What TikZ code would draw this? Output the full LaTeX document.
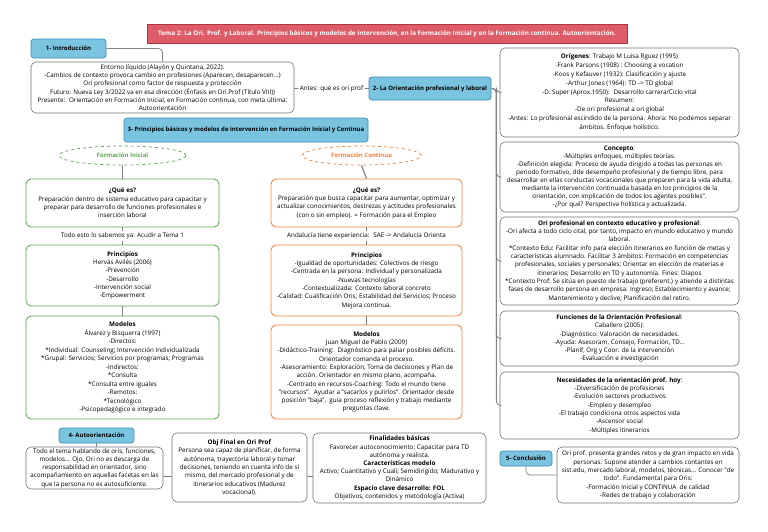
\documentclass[tikz,border=0pt]{standalone}
\usepackage{fontspec}
\setmainfont{Open Sans}
\usetikzlibrary{shapes.geometric}
\definecolor{boxgray}{RGB}{115,115,115}
\definecolor{lgray}{RGB}{130,130,130}
\definecolor{lblue}{RGB}{122,196,224}
\definecolor{hblue}{RGB}{62,140,180}
\definecolor{tred}{RGB}{222,92,104}
\definecolor{tredb}{RGB}{175,55,65}
\definecolor{ogreen}{RGB}{88,168,78}
\definecolor{oorange}{RGB}{245,128,58}
\newcommand\fs{\fontsize{6.3}{8.3}\selectfont}
\newcommand\fsw{\fontsize{6.3}{8.8}\selectfont}
\newcommand\fsh{\fontsize{6}{8}\selectfont}
\tikzset{
  box/.style={draw=boxgray, line width=0.6pt, rounded corners=5pt, fill=white, align=center, inner sep=0pt, font=\fs},
  gbox/.style={box, draw=ogreen, line width=0.8pt},
  obox/.style={box, draw=oorange, line width=0.8pt},
  head/.style={draw=hblue, fill=lblue, line width=0.7pt, rounded corners=3pt, align=center, inner sep=0pt, font=\fsh\bfseries},
  lab/.style={fill=white, inner sep=1.5pt, font=\fs},
  conn/.style={draw=lgray, line width=0.8pt, rounded corners=4pt},
  vconn/.style={draw=lgray, line width=1.2pt},
  ell/.style={ellipse, dashed, line width=0.7pt, inner sep=0pt, font=\fsh\bfseries, fill=white}
}
\begin{document}
\begin{tikzpicture}[x=1pt,y=-1pt]
\fill[white] (0,0) rectangle (768,531);
\useasboundingbox (0,0) rectangle (768,531);

% title
\node[draw=tredb, fill=tred, line width=0.6pt, minimum width=480, minimum height=19, inner sep=0pt, font=\fs\bfseries, text=white] (title) at (387,33.5) {Tema 2: La Ori. Prof. y Laboral. Principios básicos y modelos de intervención, en la Formación Inicial y en la Formación continua. Autoorientación.};

% intro
\node[head, minimum width=75, minimum height=19] (intro) at (68.5,48.5) {1- Introducción};
\node[box, minimum width=263, minimum height=51] (introtext) at (162.5,87.5) {Entorno líquido (Alayón y Quintana, 2022).\\
-Cambios de contexto provoca cambio en profesiones (Aparecen, desaparecen...)\\
Ori profesional como factor de respuesta y protección\\
Futuro: Nueva Ley 3/2022 va en esa dirección (Énfasis en Ori.Prof (Título VIII))\\
Presente: \ Orientación en Formación Inicial, en Formación continua, con meta última:\\
Autoorientación};
\draw[conn] (intro.east) -| (introtext.north);

\node[head, minimum width=122, minimum height=23] (two) at (430,88.5) {2- La Orientación profesional y laboral};
\draw[conn] (introtext.east |- two.west) -- node[lab]{Antes: qué es ori prof} (two.west);

% right column
\node[box, minimum width=239, minimum height=89, font=\fsw] (orig) at (619.5,92.5) {\textbf{Orígenes}: Trabajo M Luisa Rguez (1995)\\
-Frank Parsons (1908) : Choosing a vocation\\
-Koos y Kefauver (1932): Clasificación y ajuste\\
-Arthur Jones (1964): TD -> TD global\\
-D. Super (Aprox.1950): \ Desarrollo carrera/Ciclo vital\\
Resumen:\\
-De ori profesional a ori global\\
-Antes: Lo profesional escindido de la persona. Ahora: No podemos separar\\
ámbitos. Enfoque holístico.};
\node[box, minimum width=239, minimum height=70, font=\fontsize{6.3}{8}\selectfont] (conc) at (619.5,177) {\textbf{Concepto}:\\
-Múltiples enfoques, múltiples teorías.\\
-Definición elegida: Proceso de ayuda dirigido a todas las personas en\\
periodo formativo, dde desempeño profesional y de tiempo libre, para\\
desarrollar en ellas conductas vocacionales que preparen para la vida adulta,\\
mediante la intervención continuada basada en los principios de la\\
orientación, con implicación de todos los agentes posibles".\\
-¿Por qué? Perspectiva holística y actualizada.};
\node[box, minimum width=239, minimum height=88] (ctx) at (619.5,261) {\textbf{Ori profesional en contexto educativo y profesional}:\\
-Ori afecta a todo ciclo cital, por tanto, impacto en mundo educativo y mundo\\
laboral.\\
*Contexto Edu: Facilitar info para elección itinerarios en función de metas y\\
características alumnado. Facilitar 3 ámbitos: Formación en competencias\\
profesionales, sociales y personales; Orientar en elección de materias e\\
itinerarios; Desarrollo en TD y autonomía. Fines: Diapos\\
*Contexto Prof: Se sitúa en puesto de trabajo (preferent.) y atiende a distintas\\
fases de desarrollo persona en empresa: Ingreso; Establecimiento y avance;\\
Mantenimiento y declive; Planificación del retiro.};
\node[box, minimum width=239, minimum height=55] (fun) at (619.5,338.5) {\textbf{Funciones de la Orientación Profesional}:\\
Caballero (2005):\\
-Diagnóstico: Valoración de necesidades.\\
-Ayuda: Asesoram, Consejo, Formación, TD...\\
-Planif, Org y Coor. de la intervención\\
-Evaluación e investigación};
\node[box, minimum width=239, minimum height=67] (nec) at (619.5,405.5) {\textbf{Necesidades de la orientación prof. hoy}:\\
-Diversificación de profesiones\\
-Evolución sectores productivos\\
-Empleo y desempleo\\
-El trabajo condiciona otros aspectos vida\\
-Ascensor social\\
-Múltiples itinerarios};
\foreach \n in {orig,conc,ctx,fun,nec}
  \draw[conn] (two.east) -- ++(5,0) |- (\n.west);

% conclusion
\node[head, minimum width=52, minimum height=15] (concl) at (526,458.5) {5- Conclusión};
\node[box, minimum width=182, minimum height=56] (concltext) at (648,475) {Ori prof. presenta grandes retos y de gran impacto en vida\\
personas. Supone atender a cambios contantes en\\
sist.edu, mercado laboral, modelos, técnicas... Conocer "de\\
todo". Fundamental para Oris:\\
-Formación inicial y CONTINUA \ de calidad\\
-Redes de trabajo y colaboración};
\draw[conn] (concl.south) |- (concltext.west);

% section 3
\node[head, minimum width=244, minimum height=24] (three) at (246,130) {3- Principios básicos y modelos de intervención en Formación Inicial y Continua};

\node[ell, draw=ogreen, text=ogreen, minimum width=127, minimum height=19] (fi) at (122.5,155.5) {Formación Inicial};
\node[ell, draw=oorange, text=oorange, minimum width=119, minimum height=19] (fc) at (361.5,155.5) {Formación Continua};

\node[gbox, minimum width=193, minimum height=48] (q1) at (122.5,203) {\textbf{¿Qué es?}\\
Preparación dentro de sistema educativo para capacitar y\\
preparar para desarrollo de funciones profesionales e\\
inserción laboral};
\node[gbox, minimum width=193, minimum height=61] (p1) at (122.5,275.5) {\textbf{Principios}\\
Hervás Avilés (2006)\\
-Prevención\\
-Desarrollo\\
-Intervención social\\
-Empowerment};
\node[gbox, minimum width=193, minimum height=103, font=\fontsize{6.3}{8.5}\selectfont] (m1) at (122.5,367.5) {\textbf{Modelos}\\
Álvarez y Bisquerra (1997)\\
-Directos:\\
*Individual: Counseling; Intervención Individualizada\\
*Grupal: Servicios; Servicios por programas; Programas\\
-Indirectos:\\
*Consulta\\
*Consulta entre iguales\\
-Remotos:\\
*Tecnológico\\
-Psicopedagógico e integrado};

\node[obox, minimum width=191, minimum height=48] (q2) at (366.5,203) {\textbf{¿Qué es?}\\
Preparación que busca capacitar para aumentar, optimizar y\\
actualizar conocimientos, destrezas y actitudes profesionales\\
(con o sin empleo). = Formación para el Empleo};
\node[obox, minimum width=191, minimum height=71] (p2) at (366.5,280.5) {\textbf{Principios}\\
-Igualdad de oportunidades: Colectivos de riesgo\\
-Centrada en la persona: Individual y personalizada\\
-Nuevas tecnologías\\
-Contextualizada: Contexto laboral concreto\\
-Calidad: Cualificación Oris; Estabilidad del Servicios; Proceso\\
Mejora continua.};
\node[obox, minimum width=191, minimum height=94] (m2) at (366.5,372) {\textbf{Modelos}\\
Juan Miguel de Pablo (2009)\\
-Didáctico-Training: \ Diagnóstico para paliar posibles déficits.\\
Orientador comanda el proceso.\\
-Asesoramiento: Exploración, Toma de decisiones y Plan de\\
acción. Orientador en mismo plano, acompaña.\\
-Centrado en recursos-Coaching: Todo el mundo tiene\\
"recursos". \ Ayudar a "sacarlos y pulirlos". Orientador desde\\
posición "baja", \ guía proceso reflexión y trabajo mediante\\
preguntas clave.};

\draw[vconn] (fi.south) -- (q1.north);
\draw[vconn] (q1.south) -- node[lab]{Todo esto lo sabemos ya: Acudir a Tema 1} (p1.north);
\draw[vconn] (p1.south) -- (m1.north);
\draw[vconn] (fc.south) -- (q2.north);
\draw[vconn] (q2.south) -- node[lab]{Andalucía tiene experiencia: \ SAE -> Andalucía Orienta} (p2.north);
\draw[vconn] (p2.south) -- (m2.north);

% section 4
\node[head, minimum width=75, minimum height=15] (auto) at (96.5,435.5) {4- Autoorientación};
\node[box, minimum width=137, minimum height=42] (autotext) at (94.5,468) {Todo el tema hablando de oris, funciones,\\
modelos... Ojo, Ori no es descarga de\\
responsabilidad en orientador, sino\\
acompañamiento en aquellas facetas en las\\
que la persona no es autosuficiente.};
\draw[conn] (auto.south) -- (auto.south |- autotext.north);
\node[box, minimum width=135, minimum height=69] (obj) at (239.5,467.5) {\textbf{Obj Final en Ori Prof}\\
Persona sea capaz de planificar, de forma\\
autónoma, trayectoria laboral y tomar\\
decisiones, teniendo en cuenta info de sí\\
mismo, del mercado profesional y de\\
itinerarios educativos (Madurez\\
vocacional).};
\node[box, minimum width=173, minimum height=70, font=\fontsize{6.3}{8.2}\selectfont] (fin) at (399.5,468) {\textbf{Finalidades básicas}\\
Favorecer autoconocimiento; Capacitar para TD\\
autónoma y realista.\\
\textbf{Características modelo}\\
Activo; Cuantitativo y Cuali; Semidirigido; Madurativo y\\
Dinámico\\
\textbf{Espacio clave desarrollo: FOL}\\
Objetivos, contenidos y metodología (Activa)};
\draw[conn] (autotext.east |- 0,476) -- (obj.west |- 0,476);
\draw[conn] (obj.east |- 0,476) -- (fin.west |- 0,476);
\end{tikzpicture}
\end{document}
